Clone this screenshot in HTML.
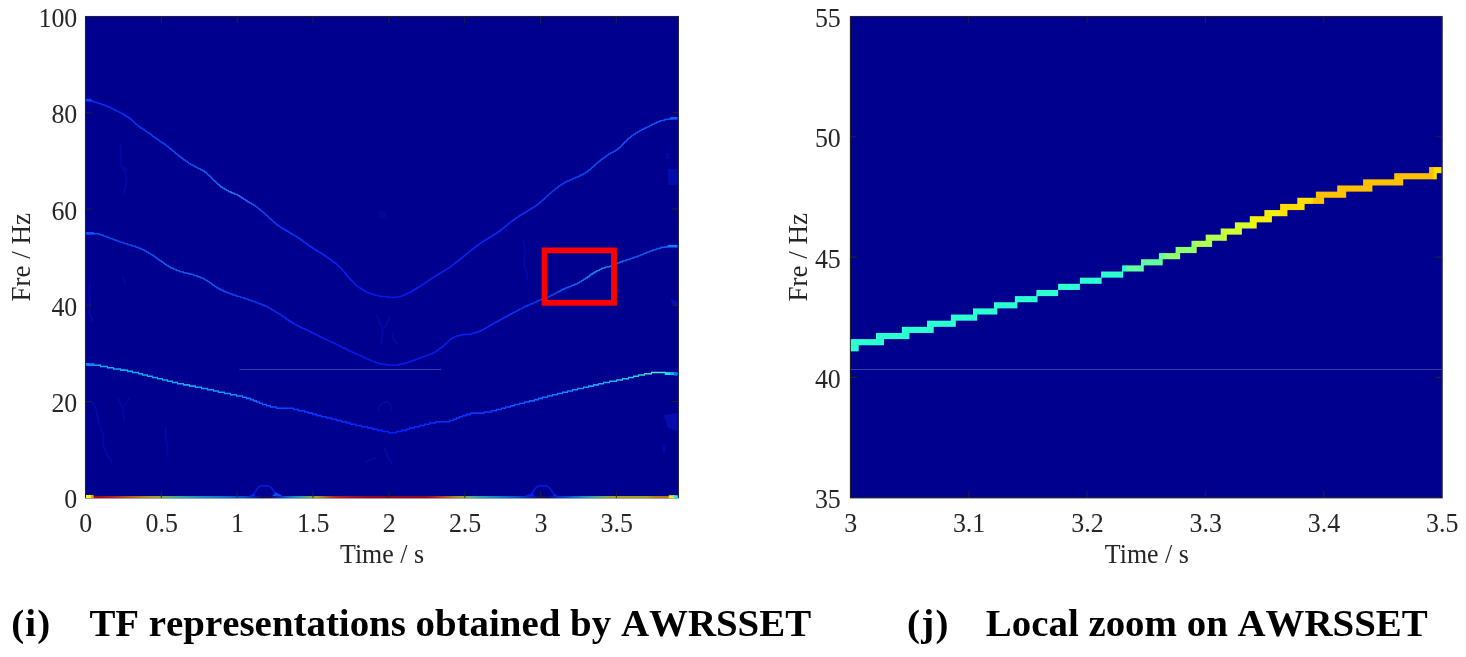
<!DOCTYPE html>
<html lang="en"><head><meta charset="utf-8"><title>TF representations obtained by AWRSSET</title>
<style>html,body{margin:0;padding:0;background:#fff;overflow:hidden}svg{display:block;position:absolute;left:0;top:0}text{font-family:"Liberation Serif","Times New Roman",Times,serif;fill:#262626}.t{font-size:27px}.c{font-size:38.9px;font-weight:bold;fill:#000;font-kerning:none}</style></head><body>
<svg width="1466" height="657" viewBox="0 0 1466 657">
<defs>
<linearGradient id="gTop" gradientUnits="userSpaceOnUse" x1="85.5" y1="0" x2="678.35" y2="0"><stop offset="0.0000" stop-color="#0630ff"/><stop offset="0.0751" stop-color="#0838ff"/><stop offset="0.1594" stop-color="#1058ff"/><stop offset="0.2184" stop-color="#1870ff"/><stop offset="0.2471" stop-color="#2890ff"/><stop offset="0.2775" stop-color="#1868ff"/><stop offset="0.3112" stop-color="#0c48ff"/><stop offset="0.3618" stop-color="#0838ff"/><stop offset="0.4293" stop-color="#0428f8"/><stop offset="0.4968" stop-color="#041cf0"/><stop offset="0.5642" stop-color="#0424f8"/><stop offset="0.6992" stop-color="#0830ff"/><stop offset="0.8004" stop-color="#0c44ff"/><stop offset="0.8678" stop-color="#1058ff"/><stop offset="0.9353" stop-color="#1060ff"/><stop offset="0.9994" stop-color="#1468ff"/></linearGradient>
<linearGradient id="gMid" gradientUnits="userSpaceOnUse" x1="85.5" y1="0" x2="678.35" y2="0"><stop offset="0.0000" stop-color="#1060ff"/><stop offset="0.0751" stop-color="#0c50ff"/><stop offset="0.1425" stop-color="#1470ff"/><stop offset="0.1931" stop-color="#1468ff"/><stop offset="0.2606" stop-color="#0c48ff"/><stop offset="0.3281" stop-color="#0630ff"/><stop offset="0.4293" stop-color="#0420f8"/><stop offset="0.5136" stop-color="#041cf0"/><stop offset="0.6148" stop-color="#0424f8"/><stop offset="0.6992" stop-color="#0834ff"/><stop offset="0.7751" stop-color="#0c48ff"/><stop offset="0.8257" stop-color="#1470ff"/><stop offset="0.8645" stop-color="#24a8ff"/><stop offset="0.8881" stop-color="#1478ff"/><stop offset="0.9353" stop-color="#1060ff"/><stop offset="0.9994" stop-color="#1878ff"/></linearGradient>
<linearGradient id="gBot" gradientUnits="userSpaceOnUse" x1="85.5" y1="0" x2="678.35" y2="0"><stop offset="0.0000" stop-color="#1890ff"/><stop offset="0.0245" stop-color="#10b0f4"/><stop offset="0.1931" stop-color="#10a8f4"/><stop offset="0.2522" stop-color="#1090ff"/><stop offset="0.2943" stop-color="#0c60ff"/><stop offset="0.3449" stop-color="#0840ff"/><stop offset="0.4293" stop-color="#0630ff"/><stop offset="0.5136" stop-color="#0420f8"/><stop offset="0.5980" stop-color="#0630ff"/><stop offset="0.6654" stop-color="#0838ff"/><stop offset="0.7329" stop-color="#0c58ff"/><stop offset="0.8004" stop-color="#1080ff"/><stop offset="0.8678" stop-color="#18a8f8"/><stop offset="0.9353" stop-color="#30d0e0"/><stop offset="0.9623" stop-color="#60f0b0"/><stop offset="0.9792" stop-color="#28e4f0"/><stop offset="0.9994" stop-color="#20e0f8"/></linearGradient>
<linearGradient id="gStrip" gradientUnits="userSpaceOnUse" x1="85.5" y1="0" x2="678.35" y2="0"><stop offset="0.0000" stop-color="#a01010"/><stop offset="0.0245" stop-color="#a01010"/><stop offset="0.0447" stop-color="#b02018"/><stop offset="0.0700" stop-color="#b85018"/><stop offset="0.0953" stop-color="#b08018"/><stop offset="0.1189" stop-color="#a8a020"/><stop offset="0.1392" stop-color="#60b060"/><stop offset="0.1628" stop-color="#30a8a0"/><stop offset="0.1965" stop-color="#1890c0"/><stop offset="0.2370" stop-color="#1070c0"/><stop offset="0.2674" stop-color="#0850c0"/><stop offset="0.2842" stop-color="#0820a0"/><stop offset="0.2977" stop-color="#101060"/><stop offset="0.3112" stop-color="#101060"/><stop offset="0.3281" stop-color="#0830c0"/><stop offset="0.3433" stop-color="#1070c0"/><stop offset="0.3601" stop-color="#2098b0"/><stop offset="0.3753" stop-color="#60a860"/><stop offset="0.3905" stop-color="#a0a020"/><stop offset="0.4057" stop-color="#a86020"/><stop offset="0.4208" stop-color="#b02820"/><stop offset="0.4461" stop-color="#a81028"/><stop offset="0.4799" stop-color="#900818"/><stop offset="0.5727" stop-color="#900818"/><stop offset="0.5895" stop-color="#b02020"/><stop offset="0.6064" stop-color="#b05018"/><stop offset="0.6216" stop-color="#a88018"/><stop offset="0.6334" stop-color="#a0a020"/><stop offset="0.6486" stop-color="#60b070"/><stop offset="0.6688" stop-color="#28a0b0"/><stop offset="0.6992" stop-color="#1080c0"/><stop offset="0.7278" stop-color="#0850c0"/><stop offset="0.7498" stop-color="#0828b0"/><stop offset="0.7633" stop-color="#101068"/><stop offset="0.7801" stop-color="#101068"/><stop offset="0.7970" stop-color="#0830c0"/><stop offset="0.8139" stop-color="#0850c0"/><stop offset="0.8375" stop-color="#1888c0"/><stop offset="0.8594" stop-color="#40a890"/><stop offset="0.8780" stop-color="#80a840"/><stop offset="0.8982" stop-color="#a8a018"/><stop offset="0.9437" stop-color="#a8a018"/><stop offset="0.9657" stop-color="#b87810"/><stop offset="0.9825" stop-color="#b87810"/><stop offset="0.9994" stop-color="#b87810"/></linearGradient>
</defs>
<rect width="1466" height="657" fill="#fff"/>
<rect x="85.0" y="16.0" width="593.85" height="482.2" fill="#00008f"/>
<rect x="239.5" y="369" width="201.5" height="1" fill="#3640a6"/>
<g fill="none" stroke="#0408a0" stroke-width="2" stroke-linecap="round" stroke-linejoin="round">
<path d="M121 144 C119 152,123 158,121 166 C125 172,128 176,126 184 L124 193M122 166 L128 171"/>
<path d="M90 284 C87 294,92 302,89 312 L93 321M123 278 L125 284"/>
<path d="M118 398 L123 408 L129 399M123 408 L124 420 M92 402 C100 410,96 425,104 436 C100 446,108 455,112 463M166 428 C163 438,170 446,167 455"/>
<path d="M377 316 L383 330 L390 317M383 330 L381 344M393 333 C392 337,394 341,397 343"/>
<path d="M378 411 C379 404,384 401,388 402 C391 404,392 408,391 411M366 462 L376 458M385 449 C387 455,389 460,392 463"/>
<path d="M523 241 C528 250,521 262,526 270 L528 281"/>
</g>
<g fill="#060cb0">
<rect x="379" y="211" width="7.5" height="7.5" opacity="0.35"/>
<path d="M664 415 L677.6 413 L677.6 431 L668 428z"/><rect x="668" y="169" width="9.6" height="16" opacity="0.8"/>
<path d="M670 299 L677.6 302 L677.6 307 L672 304z"/><rect x="662.5" y="445" width="3" height="8" opacity="0.7"/><rect x="666" y="153" width="3.5" height="6" opacity="0.6"/>
</g>
<g fill="none" stroke="#0420f0" stroke-width="1.5" stroke-linecap="round" stroke-linejoin="round" opacity="0.85">
<path d="M250.5 496 L253.5 494.5 C255.5 492,257 488.5,258.8 487 L261.2 485.8 L268.2 485.8 L270.6 487 C273 489.5,274.5 492.5,276.8 494.2 L281 495.6"/>
<path d="M526 496 L531 494.6 C533 492.5,534.5 489,536.6 487 L538.8 485.8 L546.4 485.8 L548.6 487 C551 489,552.5 492.5,554.2 494.6 L557 496"/>
</g>
<path d="M250 496.3L254 493.2L255.6 496.3zM526 496.3L532.5 493L534.5 496.3zM552.5 496.3L554 493.4L557.5 496.3z" fill="#0424ff" opacity="0.9"/>
<path d="M272 496.3L275.5 492.2L281.3 495.2L281.3 496.3z" fill="#0c50ff" opacity="0.9"/>
<g>
<path d="M86.0 99.09H88.0V100.42H86.0zM88.0 99.09H89.0V101.65H88.0zM89.0 100.32H93.0V101.65H89.0zM93.0 100.32H94.0V102.88H93.0zM94.0 101.55H97.0V102.88H94.0zM97.0 101.55H98.0V104.11H97.0zM98.0 102.78H101.0V104.11H98.0zM101.0 102.78H102.0V105.34H101.0zM102.0 104.01H104.0V105.34H102.0zM104.0 104.01H105.0V106.56H104.0zM105.0 105.24H107.0V106.56H105.0zM107.0 105.24H108.0V107.79H107.0zM108.0 106.46H110.0V107.79H108.0zM110.0 106.46H111.0V109.02H110.0zM111.0 107.69H113.0V109.02H111.0zM113.0 107.69H114.0V110.25H113.0zM114.0 108.92H115.0V110.25H114.0zM115.0 108.92H116.0V111.48H115.0zM116.0 110.15H118.0V111.48H116.0zM118.0 110.15H119.0V112.71H118.0zM119.0 111.38H120.0V112.71H119.0zM120.0 111.38H121.0V113.94H120.0zM121.0 112.61H122.0V113.94H121.0zM122.0 112.61H123.0V115.17H122.0zM123.0 113.84H124.0V115.17H123.0zM124.0 113.84H125.0V116.40H124.0zM125.0 115.07H126.0V116.40H125.0zM126.0 115.07H127.0V117.63H126.0zM127.0 116.30H128.0V117.63H127.0zM128.0 116.30H129.0V118.85H128.0zM129.0 117.53H130.0V118.85H129.0zM130.0 117.53H131.0V120.08H130.0zM131.0 118.75H132.0V121.31H131.0zM132.0 119.98H133.0V121.31H132.0zM133.0 119.98H134.0V122.54H133.0zM134.0 121.21H135.0V123.77H134.0zM135.0 122.44H136.0V125.00H135.0zM136.0 123.67H137.0V125.00H136.0zM137.0 123.67H138.0V126.23H137.0zM138.0 124.90H139.0V127.46H138.0zM139.0 126.13H140.0V127.46H139.0zM140.0 126.13H141.0V128.69H140.0zM141.0 127.36H142.0V128.69H141.0zM142.0 127.36H143.0V129.91H142.0zM143.0 128.59H144.0V129.91H143.0zM144.0 128.59H145.0V131.14H144.0zM145.0 129.81H146.0V132.37H145.0zM146.0 131.04H147.0V132.37H146.0zM147.0 131.04H148.0V133.60H147.0zM148.0 132.27H149.0V133.60H148.0zM149.0 132.27H150.0V134.83H149.0zM150.0 133.50H151.0V134.83H150.0zM151.0 133.50H152.0V136.06H151.0zM152.0 134.73H153.0V137.29H152.0zM153.0 135.96H154.0V137.29H153.0zM154.0 135.96H155.0V138.52H154.0zM155.0 137.19H156.0V138.52H155.0zM156.0 137.19H157.0V139.75H156.0zM157.0 138.42H158.0V139.75H157.0zM158.0 138.42H159.0V140.98H158.0zM159.0 139.65H160.0V142.20H159.0zM160.0 140.88H161.0V142.20H160.0zM161.0 140.88H162.0V143.43H161.0zM162.0 142.10H163.0V143.43H162.0zM163.0 142.10H164.0V144.66H163.0zM164.0 143.33H165.0V144.66H164.0zM165.0 143.33H166.0V145.89H165.0zM166.0 144.56H167.0V147.12H166.0zM167.0 145.79H168.0V147.12H167.0zM168.0 145.79H169.0V148.35H168.0zM169.0 147.02H170.0V149.58H169.0zM170.0 148.25H171.0V149.58H170.0zM171.0 148.25H172.0V150.81H171.0zM172.0 149.48H173.0V152.04H172.0zM173.0 150.71H174.0V152.04H173.0zM174.0 150.71H175.0V153.27H174.0zM175.0 151.94H176.0V154.49H175.0zM176.0 153.17H177.0V154.49H176.0zM177.0 153.17H178.0V155.72H177.0zM178.0 154.39H179.0V156.95H178.0zM179.0 155.62H180.0V156.95H179.0zM180.0 155.62H181.0V158.18H180.0zM181.0 156.85H182.0V158.18H181.0zM182.0 156.85H183.0V159.41H182.0zM183.0 158.08H184.0V160.64H183.0zM184.0 159.31H185.0V160.64H184.0zM185.0 159.31H186.0V161.87H185.0zM186.0 160.54H187.0V161.87H186.0zM187.0 160.54H188.0V163.10H187.0zM188.0 161.77H189.0V164.33H188.0zM189.0 163.00H190.0V164.33H189.0zM190.0 163.00H191.0V165.56H190.0zM191.0 164.23H193.0V165.56H191.0zM193.0 164.23H194.0V166.78H193.0zM194.0 165.46H195.0V166.78H194.0zM195.0 165.46H196.0V168.01H195.0zM196.0 166.68H197.0V168.01H196.0zM197.0 166.68H198.0V169.24H197.0zM198.0 167.91H200.0V169.24H198.0zM200.0 167.91H201.0V170.47H200.0zM201.0 169.14H202.0V170.47H201.0zM202.0 169.14H203.0V171.70H202.0zM203.0 170.37H204.0V171.70H203.0zM204.0 170.37H205.0V172.93H204.0zM205.0 171.60H206.0V172.93H205.0zM206.0 171.60H207.0V174.16H206.0zM207.0 172.83H208.0V175.39H207.0zM208.0 174.06H209.0V176.62H208.0zM209.0 175.29H210.0V176.62H209.0zM210.0 175.29H211.0V177.85H210.0zM211.0 176.52H212.0V179.07H211.0zM212.0 177.75H213.0V180.30H212.0zM213.0 178.97H214.0V181.53H213.0zM214.0 180.20H215.0V181.53H214.0zM215.0 180.20H216.0V182.76H215.0zM216.0 181.43H217.0V183.99H216.0zM217.0 182.66H218.0V185.22H217.0zM218.0 183.89H219.0V185.22H218.0zM219.0 183.89H220.0V186.45H219.0zM220.0 185.12H221.0V187.68H220.0zM221.0 186.35H222.0V187.68H221.0zM222.0 186.35H223.0V188.91H222.0zM223.0 187.58H224.0V188.91H223.0zM224.0 187.58H225.0V190.14H224.0zM225.0 188.81H226.0V190.14H225.0zM226.0 188.81H227.0V191.36H226.0zM227.0 190.04H228.0V191.36H227.0zM228.0 190.04H229.0V192.59H228.0zM229.0 191.26H231.0V192.59H229.0zM231.0 191.26H232.0V193.82H231.0zM232.0 192.49H234.0V193.82H232.0zM234.0 192.49H235.0V195.05H234.0zM235.0 193.72H237.0V195.05H235.0zM237.0 193.72H238.0V196.28H237.0zM238.0 194.95H239.0V196.28H238.0zM239.0 194.95H240.0V197.51H239.0zM240.0 196.18H241.0V197.51H240.0zM241.0 196.18H242.0V198.74H241.0zM242.0 197.41H243.0V198.74H242.0zM243.0 197.41H244.0V199.97H243.0zM244.0 198.64H245.0V199.97H244.0zM245.0 198.64H246.0V201.20H245.0zM246.0 199.87H247.0V201.20H246.0zM247.0 199.87H248.0V202.42H247.0zM248.0 201.10H249.0V202.42H248.0zM249.0 201.10H250.0V203.65H249.0zM250.0 202.32H251.0V203.65H250.0zM251.0 202.32H252.0V204.88H251.0zM252.0 203.55H253.0V204.88H252.0zM253.0 203.55H254.0V206.11H253.0zM254.0 204.78H255.0V206.11H254.0zM255.0 204.78H256.0V207.34H255.0zM256.0 206.01H257.0V207.34H256.0zM257.0 206.01H258.0V208.57H257.0zM258.0 207.24H259.0V209.80H258.0zM259.0 208.47H260.0V209.80H259.0zM260.0 208.47H261.0V211.03H260.0zM261.0 209.70H262.0V212.26H261.0zM262.0 210.93H263.0V212.26H262.0zM263.0 210.93H264.0V213.49H263.0zM264.0 212.16H265.0V214.71H264.0zM265.0 213.39H266.0V215.94H265.0zM266.0 214.61H267.0V215.94H266.0zM267.0 214.61H268.0V217.17H267.0zM268.0 215.84H269.0V218.40H268.0zM269.0 217.07H270.0V219.63H269.0zM270.0 218.30H271.0V219.63H270.0zM271.0 218.30H272.0V220.86H271.0zM272.0 219.53H273.0V222.09H272.0zM273.0 220.76H274.0V223.32H273.0zM274.0 221.99H275.0V223.32H274.0zM275.0 221.99H276.0V224.55H275.0zM276.0 223.22H277.0V225.78H276.0zM277.0 224.45H278.0V225.78H277.0zM278.0 224.45H279.0V227.00H278.0zM279.0 225.68H280.0V227.00H279.0zM280.0 225.68H281.0V228.23H280.0zM281.0 226.90H282.0V228.23H281.0zM282.0 226.90H283.0V229.46H282.0zM283.0 228.13H284.0V229.46H283.0zM284.0 228.13H285.0V230.69H284.0zM285.0 229.36H286.0V230.69H285.0zM286.0 229.36H287.0V231.92H286.0zM287.0 230.59H288.0V231.92H287.0zM288.0 230.59H289.0V233.15H288.0zM289.0 231.82H290.0V233.15H289.0zM290.0 231.82H291.0V234.38H290.0zM291.0 233.05H292.0V234.38H291.0zM292.0 233.05H293.0V235.61H292.0zM293.0 234.28H294.0V235.61H293.0zM294.0 234.28H295.0V236.84H294.0zM295.0 235.51H296.0V236.84H295.0zM296.0 235.51H297.0V238.07H296.0zM297.0 236.74H298.0V238.07H297.0zM298.0 236.74H299.0V239.29H298.0zM299.0 237.97H300.0V239.29H299.0zM300.0 237.97H301.0V240.52H300.0zM301.0 239.19H302.0V240.52H301.0zM302.0 239.19H303.0V241.75H302.0zM303.0 240.42H304.0V242.98H303.0zM304.0 241.65H305.0V242.98H304.0zM305.0 241.65H306.0V244.21H305.0zM306.0 242.88H307.0V244.21H306.0zM307.0 242.88H308.0V245.44H307.0zM308.0 244.11H309.0V246.67H308.0zM309.0 245.34H310.0V246.67H309.0zM310.0 245.34H311.0V247.90H310.0zM311.0 246.57H312.0V247.90H311.0zM312.0 246.57H313.0V249.13H312.0zM313.0 247.80H314.0V249.13H313.0zM314.0 247.80H315.0V250.36H314.0zM315.0 249.03H316.0V250.36H315.0zM316.0 249.03H317.0V251.58H316.0zM317.0 250.26H318.0V251.58H317.0zM318.0 250.26H319.0V252.81H318.0zM319.0 251.48H320.0V252.81H319.0zM320.0 251.48H321.0V254.04H320.0zM321.0 252.71H322.0V254.04H321.0zM322.0 252.71H323.0V255.27H322.0zM323.0 253.94H324.0V255.27H323.0zM324.0 253.94H325.0V256.50H324.0zM325.0 255.17H326.0V256.50H325.0zM326.0 255.17H327.0V257.73H326.0zM327.0 256.40H328.0V258.96H327.0zM328.0 257.63H329.0V258.96H328.0zM329.0 257.63H330.0V260.19H329.0zM330.0 258.86H331.0V260.19H330.0zM331.0 258.86H332.0V261.42H331.0zM332.0 260.09H333.0V262.65H332.0zM333.0 261.32H334.0V262.65H333.0zM334.0 261.32H335.0V263.87H334.0zM335.0 262.55H336.0V263.87H335.0zM336.0 262.55H337.0V265.10H336.0zM337.0 263.77H338.0V266.33H337.0zM338.0 265.00H339.0V267.56H338.0zM339.0 266.23H340.0V267.56H339.0zM340.0 266.23H341.0V268.79H340.0zM341.0 267.46H342.0V270.02H341.0zM342.0 268.69H343.0V271.25H342.0zM343.0 269.92H344.0V272.48H343.0zM344.0 271.15H345.0V273.71H344.0zM345.0 272.38H346.0V274.94H345.0zM346.0 273.61H347.0V276.16H346.0zM347.0 274.84H348.0V277.39H347.0zM348.0 276.06H349.0V278.62H348.0zM349.0 277.29H350.0V279.85H349.0zM350.0 278.52H351.0V281.08H350.0zM351.0 279.75H352.0V281.08H351.0zM352.0 279.75H353.0V282.31H352.0zM353.0 280.98H354.0V283.54H353.0zM354.0 282.21H355.0V284.77H354.0zM355.0 283.44H356.0V286.00H355.0zM356.0 284.67H357.0V286.00H356.0zM357.0 284.67H358.0V287.22H357.0zM358.0 285.90H359.0V288.45H358.0zM359.0 287.12H360.0V288.45H359.0zM360.0 287.12H361.0V289.68H360.0zM361.0 288.35H362.0V289.68H361.0zM362.0 288.35H363.0V290.91H362.0zM363.0 289.58H364.0V290.91H363.0zM364.0 289.58H365.0V292.14H364.0zM365.0 290.81H366.0V292.14H365.0zM366.0 290.81H367.0V293.37H366.0zM367.0 292.04H369.0V293.37H367.0zM369.0 292.04H370.0V294.60H369.0zM370.0 293.27H373.0V294.60H370.0zM373.0 293.27H374.0V295.83H373.0zM374.0 294.50H378.0V295.83H374.0zM378.0 294.50H379.0V297.06H378.0zM379.0 295.73H388.0V297.06H379.0zM388.0 295.73H389.0V298.29H388.0zM389.0 296.96H397.0V298.29H389.0zM397.0 295.73H398.0V298.29H397.0zM398.0 295.73H402.0V297.06H398.0zM402.0 294.50H403.0V297.06H402.0zM403.0 294.50H405.0V295.83H403.0zM405.0 293.27H406.0V295.83H405.0zM406.0 293.27H407.0V294.60H406.0zM407.0 292.04H408.0V294.60H407.0zM408.0 292.04H410.0V293.37H408.0zM410.0 290.81H411.0V293.37H410.0zM411.0 290.81H412.0V292.14H411.0zM412.0 289.58H413.0V292.14H412.0zM413.0 289.58H414.0V290.91H413.0zM414.0 288.35H415.0V290.91H414.0zM415.0 288.35H416.0V289.68H415.0zM416.0 287.12H417.0V289.68H416.0zM417.0 287.12H418.0V288.45H417.0zM418.0 285.90H419.0V288.45H418.0zM419.0 285.90H420.0V287.22H419.0zM420.0 284.67H421.0V287.22H420.0zM421.0 284.67H422.0V286.00H421.0zM422.0 283.44H423.0V286.00H422.0zM423.0 283.44H424.0V284.77H423.0zM424.0 282.21H425.0V284.77H424.0zM425.0 282.21H426.0V283.54H425.0zM426.0 280.98H427.0V283.54H426.0zM427.0 279.75H428.0V282.31H427.0zM428.0 279.75H429.0V281.08H428.0zM429.0 278.52H430.0V281.08H429.0zM430.0 278.52H431.0V279.85H430.0zM431.0 277.29H432.0V279.85H431.0zM432.0 277.29H433.0V278.62H432.0zM433.0 276.06H434.0V278.62H433.0zM434.0 276.06H435.0V277.39H434.0zM435.0 274.84H436.0V277.39H435.0zM436.0 274.84H437.0V276.16H436.0zM437.0 273.61H438.0V276.16H437.0zM438.0 273.61H439.0V274.94H438.0zM439.0 272.38H440.0V274.94H439.0zM440.0 272.38H441.0V273.71H440.0zM441.0 271.15H442.0V273.71H441.0zM442.0 271.15H443.0V272.48H442.0zM443.0 269.92H444.0V272.48H443.0zM444.0 269.92H445.0V271.25H444.0zM445.0 268.69H446.0V271.25H445.0zM446.0 268.69H447.0V270.02H446.0zM447.0 267.46H448.0V270.02H447.0zM448.0 267.46H449.0V268.79H448.0zM449.0 266.23H450.0V268.79H449.0zM450.0 266.23H451.0V267.56H450.0zM451.0 265.00H452.0V267.56H451.0zM452.0 263.77H453.0V266.33H452.0zM453.0 263.77H454.0V265.10H453.0zM454.0 262.55H455.0V265.10H454.0zM455.0 261.32H456.0V263.87H455.0zM456.0 261.32H457.0V262.65H456.0zM457.0 260.09H458.0V262.65H457.0zM458.0 260.09H459.0V261.42H458.0zM459.0 258.86H460.0V261.42H459.0zM460.0 257.63H461.0V260.19H460.0zM461.0 257.63H462.0V258.96H461.0zM462.0 256.40H463.0V258.96H462.0zM463.0 255.17H464.0V257.73H463.0zM464.0 255.17H465.0V256.50H464.0zM465.0 253.94H466.0V256.50H465.0zM466.0 252.71H467.0V255.27H466.0zM467.0 252.71H468.0V254.04H467.0zM468.0 251.48H469.0V254.04H468.0zM469.0 250.26H470.0V252.81H469.0zM470.0 250.26H471.0V251.58H470.0zM471.0 249.03H472.0V251.58H471.0zM472.0 247.80H473.0V250.36H472.0zM473.0 247.80H474.0V249.13H473.0zM474.0 246.57H475.0V249.13H474.0zM475.0 245.34H476.0V247.90H475.0zM476.0 245.34H477.0V246.67H476.0zM477.0 244.11H478.0V246.67H477.0zM478.0 244.11H479.0V245.44H478.0zM479.0 242.88H480.0V245.44H479.0zM480.0 242.88H481.0V244.21H480.0zM481.0 241.65H482.0V244.21H481.0zM482.0 240.42H483.0V242.98H482.0zM483.0 240.42H484.0V241.75H483.0zM484.0 239.19H485.0V241.75H484.0zM485.0 239.19H486.0V240.52H485.0zM486.0 237.97H487.0V240.52H486.0zM487.0 237.97H488.0V239.29H487.0zM488.0 236.74H489.0V239.29H488.0zM489.0 236.74H491.0V238.07H489.0zM491.0 235.51H492.0V238.07H491.0zM492.0 234.28H493.0V236.84H492.0zM493.0 234.28H494.0V235.61H493.0zM494.0 233.05H495.0V235.61H494.0zM495.0 233.05H496.0V234.38H495.0zM496.0 231.82H497.0V234.38H496.0zM497.0 231.82H498.0V233.15H497.0zM498.0 230.59H499.0V233.15H498.0zM499.0 230.59H500.0V231.92H499.0zM500.0 229.36H501.0V231.92H500.0zM501.0 228.13H502.0V230.69H501.0zM502.0 228.13H503.0V229.46H502.0zM503.0 226.90H504.0V229.46H503.0zM504.0 225.68H505.0V228.23H504.0zM505.0 225.68H506.0V227.00H505.0zM506.0 224.45H507.0V227.00H506.0zM507.0 223.22H508.0V225.78H507.0zM508.0 223.22H509.0V224.55H508.0zM509.0 221.99H510.0V224.55H509.0zM510.0 220.76H511.0V223.32H510.0zM511.0 220.76H512.0V222.09H511.0zM512.0 219.53H513.0V222.09H512.0zM513.0 219.53H514.0V220.86H513.0zM514.0 218.30H515.0V220.86H514.0zM515.0 217.07H516.0V219.63H515.0zM516.0 217.07H517.0V218.40H516.0zM517.0 215.84H518.0V218.40H517.0zM518.0 215.84H519.0V217.17H518.0zM519.0 214.61H520.0V217.17H519.0zM520.0 214.61H521.0V215.94H520.0zM521.0 213.39H522.0V215.94H521.0zM522.0 213.39H523.0V214.71H522.0zM523.0 212.16H524.0V214.71H523.0zM524.0 212.16H525.0V213.49H524.0zM525.0 210.93H526.0V213.49H525.0zM526.0 210.93H527.0V212.26H526.0zM527.0 209.70H528.0V212.26H527.0zM528.0 209.70H529.0V211.03H528.0zM529.0 208.47H530.0V211.03H529.0zM530.0 208.47H531.0V209.80H530.0zM531.0 207.24H532.0V209.80H531.0zM532.0 207.24H533.0V208.57H532.0zM533.0 206.01H534.0V208.57H533.0zM534.0 206.01H535.0V207.34H534.0zM535.0 204.78H536.0V207.34H535.0zM536.0 204.78H537.0V206.11H536.0zM537.0 203.55H538.0V206.11H537.0zM538.0 202.32H539.0V204.88H538.0zM539.0 202.32H540.0V203.65H539.0zM540.0 201.10H541.0V203.65H540.0zM541.0 199.87H542.0V202.42H541.0zM542.0 199.87H543.0V201.20H542.0zM543.0 198.64H544.0V201.20H543.0zM544.0 197.41H545.0V199.97H544.0zM545.0 196.18H546.0V198.74H545.0zM546.0 194.95H547.0V197.51H546.0zM547.0 194.95H548.0V196.28H547.0zM548.0 193.72H549.0V196.28H548.0zM549.0 192.49H550.0V195.05H549.0zM550.0 192.49H551.0V193.82H550.0zM551.0 191.26H552.0V193.82H551.0zM552.0 190.04H553.0V192.59H552.0zM553.0 190.04H554.0V191.36H553.0zM554.0 188.81H555.0V191.36H554.0zM555.0 187.58H556.0V190.14H555.0zM556.0 187.58H557.0V188.91H556.0zM557.0 186.35H558.0V188.91H557.0zM558.0 185.12H559.0V187.68H558.0zM559.0 185.12H560.0V186.45H559.0zM560.0 183.89H561.0V186.45H560.0zM561.0 183.89H562.0V185.22H561.0zM562.0 182.66H563.0V185.22H562.0zM563.0 182.66H564.0V183.99H563.0zM564.0 181.43H565.0V183.99H564.0zM565.0 181.43H566.0V182.76H565.0zM566.0 180.20H567.0V182.76H566.0zM567.0 180.20H569.0V181.53H567.0zM569.0 178.97H570.0V181.53H569.0zM570.0 178.97H572.0V180.30H570.0zM572.0 177.75H573.0V180.30H572.0zM573.0 177.75H575.0V179.07H573.0zM575.0 176.52H576.0V179.07H575.0zM576.0 176.52H578.0V177.85H576.0zM578.0 175.29H579.0V177.85H578.0zM579.0 175.29H580.0V176.62H579.0zM580.0 174.06H581.0V176.62H580.0zM581.0 174.06H583.0V175.39H581.0zM583.0 172.83H584.0V175.39H583.0zM584.0 172.83H585.0V174.16H584.0zM585.0 171.60H586.0V174.16H585.0zM586.0 171.60H587.0V172.93H586.0zM587.0 170.37H588.0V172.93H587.0zM588.0 169.14H589.0V171.70H588.0zM589.0 169.14H590.0V170.47H589.0zM590.0 167.91H591.0V170.47H590.0zM591.0 166.68H592.0V169.24H591.0zM592.0 166.68H593.0V168.01H592.0zM593.0 165.46H594.0V168.01H593.0zM594.0 164.23H595.0V166.78H594.0zM595.0 163.00H596.0V165.56H595.0zM596.0 163.00H597.0V164.33H596.0zM597.0 161.77H598.0V164.33H597.0zM598.0 160.54H599.0V163.10H598.0zM599.0 160.54H600.0V161.87H599.0zM600.0 159.31H601.0V161.87H600.0zM601.0 158.08H602.0V160.64H601.0zM602.0 158.08H603.0V159.41H602.0zM603.0 156.85H604.0V159.41H603.0zM604.0 156.85H605.0V158.18H604.0zM605.0 155.62H606.0V158.18H605.0zM606.0 154.39H607.0V156.95H606.0zM607.0 154.39H608.0V155.72H607.0zM608.0 153.17H609.0V155.72H608.0zM609.0 153.17H610.0V154.49H609.0zM610.0 151.94H611.0V154.49H610.0zM611.0 151.94H613.0V153.27H611.0zM613.0 150.71H614.0V153.27H613.0zM614.0 150.71H615.0V152.04H614.0zM615.0 149.48H616.0V152.04H615.0zM616.0 149.48H617.0V150.81H616.0zM617.0 148.25H618.0V150.81H617.0zM618.0 147.02H619.0V149.58H618.0zM619.0 147.02H620.0V148.35H619.0zM620.0 145.79H621.0V148.35H620.0zM621.0 144.56H622.0V147.12H621.0zM622.0 143.33H623.0V145.89H622.0zM623.0 142.10H624.0V144.66H623.0zM624.0 140.88H625.0V143.43H624.0zM625.0 140.88H626.0V142.20H625.0zM626.0 139.65H627.0V142.20H626.0zM627.0 138.42H628.0V140.98H627.0zM628.0 137.19H629.0V139.75H628.0zM629.0 137.19H630.0V138.52H629.0zM630.0 135.96H631.0V138.52H630.0zM631.0 134.73H632.0V137.29H631.0zM632.0 134.73H633.0V136.06H632.0zM633.0 133.50H634.0V136.06H633.0zM634.0 133.50H635.0V134.83H634.0zM635.0 132.27H636.0V134.83H635.0zM636.0 132.27H637.0V133.60H636.0zM637.0 131.04H638.0V133.60H637.0zM638.0 131.04H639.0V132.37H638.0zM639.0 129.81H640.0V132.37H639.0zM640.0 129.81H641.0V131.14H640.0zM641.0 128.59H642.0V131.14H641.0zM642.0 128.59H644.0V129.91H642.0zM644.0 127.36H645.0V129.91H644.0zM645.0 127.36H646.0V128.69H645.0zM646.0 126.13H647.0V128.69H646.0zM647.0 126.13H649.0V127.46H647.0zM649.0 124.90H650.0V127.46H649.0zM650.0 124.90H651.0V126.23H650.0zM651.0 123.67H652.0V126.23H651.0zM652.0 123.67H654.0V125.00H652.0zM654.0 122.44H655.0V125.00H654.0zM655.0 122.44H656.0V123.77H655.0zM656.0 121.21H657.0V123.77H656.0zM657.0 121.21H659.0V122.54H657.0zM659.0 119.98H660.0V122.54H659.0zM660.0 119.98H664.0V121.31H660.0zM664.0 118.75H665.0V121.31H664.0zM665.0 118.75H670.0V120.08H665.0zM670.0 117.53H671.0V120.08H670.0zM671.0 117.53H677.7V118.85H671.0z" fill="url(#gTop)" opacity="0.55"/>
<path d="M85.9 100.0C86.6 100.1 88.2 100.2 90.0 100.6C91.8 101.0 94.2 101.8 96.7 102.6C99.2 103.4 102.3 104.3 105.1 105.4C107.9 106.5 110.7 107.9 113.5 109.2C116.3 110.5 119.0 111.8 121.8 113.4C124.6 115.0 127.4 116.7 130.2 118.8C133.0 120.9 135.8 123.8 138.6 126.0C141.4 128.2 144.1 129.9 146.9 131.8C149.7 133.8 152.5 135.7 155.3 137.7C158.1 139.7 160.9 141.5 163.7 143.6C166.5 145.7 169.3 148.1 172.1 150.3C174.9 152.5 177.6 154.8 180.4 156.9C183.2 159.0 186.0 161.2 188.8 163.0C191.6 164.8 194.4 166.3 197.2 167.8C200.0 169.3 202.7 170.1 205.5 172.2C208.3 174.3 211.1 177.7 213.9 180.3C216.7 182.9 219.5 185.6 222.3 187.6C225.1 189.6 227.9 190.8 230.6 192.1C233.3 193.4 235.7 193.9 238.4 195.4C241.1 196.9 243.9 199.2 246.7 200.9C249.5 202.7 252.3 204.0 255.1 205.9C257.9 207.8 260.7 210.2 263.5 212.6C266.3 215.0 269.0 217.8 271.8 220.2C274.6 222.6 277.4 224.9 280.2 226.9C283.0 228.9 285.8 230.2 288.6 231.9C291.4 233.6 294.1 235.1 296.9 236.9C299.7 238.7 302.5 240.9 305.3 242.8C308.1 244.8 310.9 246.8 313.7 248.6C316.5 250.4 319.3 251.8 322.1 253.6C324.9 255.4 327.6 257.4 330.4 259.5C333.2 261.6 336.0 263.6 338.8 266.2C341.6 268.8 344.4 272.3 347.2 275.4C350.0 278.5 352.7 282.1 355.5 284.6C358.3 287.1 362.0 289.1 363.9 290.3C365.8 291.6 364.8 291.3 366.7 292.1C368.6 292.9 372.3 294.4 375.1 295.1C377.9 295.9 380.7 296.3 383.5 296.6C386.3 296.9 389.0 297.1 391.8 297.1C394.6 297.1 397.4 297.3 400.2 296.6C403.0 295.9 405.8 294.3 408.6 292.9C411.4 291.5 414.1 290.1 416.9 288.4C419.7 286.7 422.5 284.7 425.3 282.8C428.1 280.9 430.9 278.8 433.7 277.0C436.5 275.2 439.3 273.7 442.1 272.0C444.9 270.3 447.6 268.8 450.4 266.9C453.2 264.9 456.0 262.5 458.8 260.3C461.6 258.1 464.4 255.8 467.2 253.6C470.0 251.4 472.7 249.0 475.5 246.9C478.3 244.8 481.1 242.8 483.9 241.0C486.7 239.2 489.5 237.8 492.3 236.0C495.1 234.2 497.7 232.5 500.6 230.3C503.5 228.1 506.7 225.1 509.9 222.7C513.1 220.3 516.5 218.0 519.8 215.8C523.1 213.7 526.4 212.0 529.7 209.8C533.0 207.7 536.3 205.5 539.6 202.9C542.9 200.3 546.2 196.8 549.5 194.0C552.8 191.2 556.1 188.4 559.4 186.1C562.7 183.8 566.0 181.8 569.3 180.2C572.6 178.5 575.9 177.8 579.2 176.2C582.5 174.5 585.8 172.8 589.1 170.3C592.4 167.8 595.7 164.1 599.0 161.4C602.3 158.8 605.5 156.6 608.8 154.4C612.1 152.2 615.4 151.1 618.7 148.5C622.0 145.9 625.3 141.4 628.6 138.6C631.9 135.8 635.2 133.7 638.5 131.7C641.8 129.7 645.1 128.3 648.4 126.7C651.7 125.1 655.0 123.0 658.3 121.8C661.6 120.5 665.0 119.8 668.2 119.2C671.4 118.6 675.8 118.4 677.3 118.2" fill="none" stroke="url(#gTop)" stroke-width="1.25" stroke-linejoin="round" opacity="0.75"/>
<path d="M86.0 233.05H99.0V234.38H86.0zM99.0 233.05H100.0V235.61H99.0zM100.0 234.28H103.0V235.61H100.0zM103.0 234.28H104.0V236.84H103.0zM104.0 235.51H106.0V236.84H104.0zM106.0 235.51H107.0V238.07H106.0zM107.0 236.74H109.0V238.07H107.0zM109.0 236.74H110.0V239.29H109.0zM110.0 237.97H113.0V239.29H110.0zM113.0 237.97H114.0V240.52H113.0zM114.0 239.19H116.0V240.52H114.0zM116.0 239.19H117.0V241.75H116.0zM117.0 240.42H119.0V241.75H117.0zM119.0 240.42H120.0V242.98H119.0zM120.0 241.65H123.0V242.98H120.0zM123.0 241.65H124.0V244.21H123.0zM124.0 242.88H127.0V244.21H124.0zM127.0 242.88H128.0V245.44H127.0zM128.0 244.11H131.0V245.44H128.0zM131.0 244.11H132.0V246.67H131.0zM132.0 245.34H135.0V246.67H132.0zM135.0 245.34H136.0V247.90H135.0zM136.0 246.57H138.0V247.90H136.0zM138.0 246.57H139.0V249.13H138.0zM139.0 247.80H141.0V249.13H139.0zM141.0 247.80H142.0V250.36H141.0zM142.0 249.03H144.0V250.36H142.0zM144.0 249.03H145.0V251.58H144.0zM145.0 250.26H146.0V251.58H145.0zM146.0 250.26H147.0V252.81H146.0zM147.0 251.48H148.0V252.81H147.0zM148.0 251.48H149.0V254.04H148.0zM149.0 252.71H150.0V254.04H149.0zM150.0 252.71H151.0V255.27H150.0zM151.0 253.94H152.0V255.27H151.0zM152.0 253.94H153.0V256.50H152.0zM153.0 255.17H154.0V256.50H153.0zM154.0 255.17H155.0V257.73H154.0zM155.0 256.40H156.0V257.73H155.0zM156.0 256.40H157.0V258.96H156.0zM157.0 257.63H158.0V260.19H157.0zM158.0 258.86H159.0V260.19H158.0zM159.0 258.86H160.0V261.42H159.0zM160.0 260.09H161.0V261.42H160.0zM161.0 260.09H162.0V262.65H161.0zM162.0 261.32H163.0V262.65H162.0zM163.0 261.32H164.0V263.87H163.0zM164.0 262.55H165.0V265.10H164.0zM165.0 263.77H166.0V265.10H165.0zM166.0 263.77H167.0V266.33H166.0zM167.0 265.00H168.0V266.33H167.0zM168.0 265.00H169.0V267.56H168.0zM169.0 266.23H170.0V267.56H169.0zM170.0 266.23H171.0V268.79H170.0zM171.0 267.46H173.0V268.79H171.0zM173.0 267.46H174.0V270.02H173.0zM174.0 268.69H176.0V270.02H174.0zM176.0 268.69H177.0V271.25H176.0zM177.0 269.92H179.0V271.25H177.0zM179.0 269.92H180.0V272.48H179.0zM180.0 271.15H183.0V272.48H180.0zM183.0 271.15H184.0V273.71H183.0zM184.0 272.38H188.0V273.71H184.0zM188.0 272.38H189.0V274.94H188.0zM189.0 273.61H193.0V274.94H189.0zM193.0 273.61H194.0V276.16H193.0zM194.0 274.84H197.0V276.16H194.0zM197.0 274.84H198.0V277.39H197.0zM198.0 276.06H200.0V277.39H198.0zM200.0 276.06H201.0V278.62H200.0zM201.0 277.29H203.0V278.62H201.0zM203.0 277.29H204.0V279.85H203.0zM204.0 278.52H205.0V279.85H204.0zM205.0 278.52H206.0V281.08H205.0zM206.0 279.75H207.0V281.08H206.0zM207.0 279.75H208.0V282.31H207.0zM208.0 280.98H209.0V282.31H208.0zM209.0 280.98H210.0V283.54H209.0zM210.0 282.21H211.0V283.54H210.0zM211.0 282.21H212.0V284.77H211.0zM212.0 283.44H213.0V286.00H212.0zM213.0 284.67H214.0V286.00H213.0zM214.0 284.67H215.0V287.22H214.0zM215.0 285.90H216.0V287.22H215.0zM216.0 285.90H217.0V288.45H216.0zM217.0 287.12H218.0V288.45H217.0zM218.0 287.12H219.0V289.68H218.0zM219.0 288.35H220.0V289.68H219.0zM220.0 288.35H221.0V290.91H220.0zM221.0 289.58H223.0V290.91H221.0zM223.0 289.58H224.0V292.14H223.0zM224.0 290.81H226.0V292.14H224.0zM226.0 290.81H227.0V293.37H226.0zM227.0 292.04H229.0V293.37H227.0zM229.0 292.04H230.0V294.60H229.0zM230.0 293.27H232.0V294.60H230.0zM232.0 293.27H233.0V295.83H232.0zM233.0 294.50H236.0V295.83H233.0zM236.0 294.50H237.0V297.06H236.0zM237.0 295.73H240.0V297.06H237.0zM240.0 295.73H241.0V298.29H240.0zM241.0 296.96H244.0V298.29H241.0zM244.0 296.96H245.0V299.51H244.0zM245.0 298.19H248.0V299.51H245.0zM248.0 298.19H249.0V300.74H248.0zM249.0 299.41H251.0V300.74H249.0zM251.0 299.41H252.0V301.97H251.0zM252.0 300.64H255.0V301.97H252.0zM255.0 300.64H256.0V303.20H255.0zM256.0 301.87H258.0V303.20H256.0zM258.0 301.87H259.0V304.43H258.0zM259.0 303.10H261.0V304.43H259.0zM261.0 303.10H262.0V305.66H261.0zM262.0 304.33H264.0V305.66H262.0zM264.0 304.33H265.0V306.89H264.0zM265.0 305.56H267.0V306.89H265.0zM267.0 305.56H268.0V308.12H267.0zM268.0 306.79H269.0V308.12H268.0zM269.0 306.79H270.0V309.35H269.0zM270.0 308.02H271.0V309.35H270.0zM271.0 308.02H272.0V310.58H271.0zM272.0 309.25H273.0V310.58H272.0zM273.0 309.25H274.0V311.80H273.0zM274.0 310.48H275.0V311.80H274.0zM275.0 310.48H276.0V313.03H275.0zM276.0 311.70H277.0V313.03H276.0zM277.0 311.70H278.0V314.26H277.0zM278.0 312.93H279.0V314.26H278.0zM279.0 312.93H280.0V315.49H279.0zM280.0 314.16H281.0V315.49H280.0zM281.0 314.16H282.0V316.72H281.0zM282.0 315.39H283.0V316.72H282.0zM283.0 315.39H284.0V317.95H283.0zM284.0 316.62H285.0V317.95H284.0zM285.0 316.62H286.0V319.18H285.0zM286.0 317.85H287.0V320.41H286.0zM287.0 319.08H288.0V320.41H287.0zM288.0 319.08H289.0V321.64H288.0zM289.0 320.31H290.0V321.64H289.0zM290.0 320.31H291.0V322.87H290.0zM291.0 321.54H292.0V322.87H291.0zM292.0 321.54H293.0V324.09H292.0zM293.0 322.77H294.0V324.09H293.0zM294.0 322.77H295.0V325.32H294.0zM295.0 323.99H296.0V325.32H295.0zM296.0 323.99H297.0V326.55H296.0zM297.0 325.22H299.0V326.55H297.0zM299.0 325.22H300.0V327.78H299.0zM300.0 326.45H301.0V327.78H300.0zM301.0 326.45H302.0V329.01H301.0zM302.0 327.68H304.0V329.01H302.0zM304.0 327.68H305.0V330.24H304.0zM305.0 328.91H307.0V330.24H305.0zM307.0 328.91H308.0V331.47H307.0zM308.0 330.14H309.0V331.47H308.0zM309.0 330.14H310.0V332.70H309.0zM310.0 331.37H312.0V332.70H310.0zM312.0 331.37H313.0V333.93H312.0zM313.0 332.60H314.0V333.93H313.0zM314.0 332.60H315.0V335.16H314.0zM315.0 333.83H317.0V335.16H315.0zM317.0 333.83H318.0V336.38H317.0zM318.0 335.06H319.0V336.38H318.0zM319.0 335.06H320.0V337.61H319.0zM320.0 336.28H321.0V337.61H320.0zM321.0 336.28H322.0V338.84H321.0zM322.0 337.51H324.0V338.84H322.0zM324.0 337.51H325.0V340.07H324.0zM325.0 338.74H327.0V340.07H325.0zM327.0 338.74H328.0V341.30H327.0zM328.0 339.97H329.0V341.30H328.0zM329.0 339.97H330.0V342.53H329.0zM330.0 341.20H332.0V342.53H330.0zM332.0 341.20H333.0V343.76H332.0zM333.0 342.43H335.0V343.76H333.0zM335.0 342.43H336.0V344.99H335.0zM336.0 343.66H337.0V344.99H336.0zM337.0 343.66H338.0V346.22H337.0zM338.0 344.89H340.0V346.22H338.0zM340.0 344.89H341.0V347.45H340.0zM341.0 346.12H342.0V347.45H341.0zM342.0 346.12H343.0V348.67H342.0zM343.0 347.35H345.0V348.67H343.0zM345.0 347.35H346.0V349.90H345.0zM346.0 348.57H347.0V349.90H346.0zM347.0 348.57H348.0V351.13H347.0zM348.0 349.80H350.0V351.13H348.0zM350.0 349.80H351.0V352.36H350.0zM351.0 351.03H352.0V352.36H351.0zM352.0 351.03H353.0V353.59H352.0zM353.0 352.26H355.0V353.59H353.0zM355.0 352.26H356.0V354.82H355.0zM356.0 353.49H358.0V354.82H356.0zM358.0 353.49H359.0V356.05H358.0zM359.0 354.72H361.0V356.05H359.0zM361.0 354.72H362.0V357.28H361.0zM362.0 355.95H363.0V357.28H362.0zM363.0 355.95H364.0V358.51H363.0zM364.0 357.18H366.0V358.51H364.0zM366.0 357.18H367.0V359.74H366.0zM367.0 358.41H369.0V359.74H367.0zM369.0 358.41H370.0V360.96H369.0zM370.0 359.64H371.0V360.96H370.0zM371.0 359.64H372.0V362.19H371.0zM372.0 360.86H375.0V362.19H372.0zM375.0 360.86H376.0V363.42H375.0zM376.0 362.09H378.0V363.42H376.0zM378.0 362.09H379.0V364.65H378.0zM379.0 363.32H385.0V364.65H379.0zM385.0 363.32H386.0V365.88H385.0zM386.0 364.55H399.0V365.88H386.0zM399.0 363.32H400.0V365.88H399.0zM400.0 363.32H404.0V364.65H400.0zM404.0 362.09H405.0V364.65H404.0zM405.0 362.09H408.0V363.42H405.0zM408.0 360.86H409.0V363.42H408.0zM409.0 360.86H412.0V362.19H409.0zM412.0 359.64H413.0V362.19H412.0zM413.0 359.64H415.0V360.96H413.0zM415.0 358.41H416.0V360.96H415.0zM416.0 358.41H418.0V359.74H416.0zM418.0 357.18H419.0V359.74H418.0zM419.0 357.18H422.0V358.51H419.0zM422.0 355.95H423.0V358.51H422.0zM423.0 355.95H425.0V357.28H423.0zM425.0 354.72H426.0V357.28H425.0zM426.0 354.72H429.0V356.05H426.0zM429.0 353.49H430.0V356.05H429.0zM430.0 353.49H432.0V354.82H430.0zM432.0 352.26H433.0V354.82H432.0zM433.0 352.26H434.0V353.59H433.0zM434.0 351.03H435.0V353.59H434.0zM435.0 351.03H436.0V352.36H435.0zM436.0 349.80H437.0V352.36H436.0zM437.0 349.80H438.0V351.13H437.0zM438.0 348.57H439.0V351.13H438.0zM439.0 347.35H440.0V349.90H439.0zM440.0 347.35H441.0V348.67H440.0zM441.0 346.12H442.0V348.67H441.0zM442.0 346.12H443.0V347.45H442.0zM443.0 344.89H444.0V347.45H443.0zM444.0 343.66H445.0V346.22H444.0zM445.0 342.43H446.0V344.99H445.0zM446.0 342.43H447.0V343.76H446.0zM447.0 341.20H448.0V343.76H447.0zM448.0 339.97H449.0V342.53H448.0zM449.0 338.74H450.0V341.30H449.0zM450.0 338.74H451.0V340.07H450.0zM451.0 337.51H452.0V340.07H451.0zM452.0 337.51H453.0V338.84H452.0zM453.0 336.28H454.0V338.84H453.0zM454.0 336.28H456.0V337.61H454.0zM456.0 335.06H457.0V337.61H456.0zM457.0 335.06H460.0V336.38H457.0zM460.0 333.83H461.0V336.38H460.0zM461.0 333.83H471.0V335.16H461.0zM471.0 332.60H472.0V335.16H471.0zM472.0 332.60H475.0V333.93H472.0zM475.0 331.37H476.0V333.93H475.0zM476.0 331.37H478.0V332.70H476.0zM478.0 330.14H479.0V332.70H478.0zM479.0 330.14H481.0V331.47H479.0zM481.0 328.91H482.0V331.47H481.0zM482.0 328.91H484.0V330.24H482.0zM484.0 327.68H485.0V330.24H484.0zM485.0 327.68H486.0V329.01H485.0zM486.0 326.45H487.0V329.01H486.0zM487.0 326.45H488.0V327.78H487.0zM488.0 325.22H489.0V327.78H488.0zM489.0 325.22H490.0V326.55H489.0zM490.0 323.99H491.0V326.55H490.0zM491.0 323.99H492.0V325.32H491.0zM492.0 322.77H493.0V325.32H492.0zM493.0 322.77H494.0V324.09H493.0zM494.0 321.54H495.0V324.09H494.0zM495.0 321.54H497.0V322.87H495.0zM497.0 320.31H498.0V322.87H497.0zM498.0 320.31H499.0V321.64H498.0zM499.0 319.08H500.0V321.64H499.0zM500.0 319.08H501.0V320.41H500.0zM501.0 317.85H502.0V320.41H501.0zM502.0 317.85H503.0V319.18H502.0zM503.0 316.62H504.0V319.18H503.0zM504.0 316.62H506.0V317.95H504.0zM506.0 315.39H507.0V317.95H506.0zM507.0 315.39H508.0V316.72H507.0zM508.0 314.16H509.0V316.72H508.0zM509.0 314.16H510.0V315.49H509.0zM510.0 312.93H511.0V315.49H510.0zM511.0 312.93H512.0V314.26H511.0zM512.0 311.70H513.0V314.26H512.0zM513.0 311.70H515.0V313.03H513.0zM515.0 310.48H516.0V313.03H515.0zM516.0 310.48H517.0V311.80H516.0zM517.0 309.25H518.0V311.80H517.0zM518.0 309.25H519.0V310.58H518.0zM519.0 308.02H520.0V310.58H519.0zM520.0 308.02H522.0V309.35H520.0zM522.0 306.79H523.0V309.35H522.0zM523.0 306.79H524.0V308.12H523.0zM524.0 305.56H525.0V308.12H524.0zM525.0 305.56H527.0V306.89H525.0zM527.0 304.33H528.0V306.89H527.0zM528.0 304.33H530.0V305.66H528.0zM530.0 303.10H531.0V305.66H530.0zM531.0 303.10H533.0V304.43H531.0zM533.0 301.87H534.0V304.43H533.0zM534.0 301.87H536.0V303.20H534.0zM536.0 300.64H537.0V303.20H536.0zM537.0 300.64H538.0V301.97H537.0zM538.0 299.41H539.0V301.97H538.0zM539.0 299.41H541.0V300.74H539.0zM541.0 298.19H542.0V300.74H541.0zM542.0 298.19H545.0V299.51H542.0zM545.0 296.96H546.0V299.51H545.0zM546.0 296.96H548.0V298.29H546.0zM548.0 295.73H549.0V298.29H548.0zM549.0 295.73H550.0V297.06H549.0zM550.0 294.50H551.0V297.06H550.0zM551.0 294.50H553.0V295.83H551.0zM553.0 293.27H554.0V295.83H553.0zM554.0 293.27H555.0V294.60H554.0zM555.0 292.04H556.0V294.60H555.0zM556.0 292.04H557.0V293.37H556.0zM557.0 290.81H558.0V293.37H557.0zM558.0 290.81H560.0V292.14H558.0zM560.0 289.58H561.0V292.14H560.0zM561.0 289.58H562.0V290.91H561.0zM562.0 288.35H563.0V290.91H562.0zM563.0 288.35H565.0V289.68H563.0zM565.0 287.12H566.0V289.68H565.0zM566.0 287.12H568.0V288.45H566.0zM568.0 285.90H569.0V288.45H568.0zM569.0 285.90H571.0V287.22H569.0zM571.0 284.67H572.0V287.22H571.0zM572.0 284.67H574.0V286.00H572.0zM574.0 283.44H575.0V286.00H574.0zM575.0 283.44H577.0V284.77H575.0zM577.0 282.21H578.0V284.77H577.0zM578.0 282.21H579.0V283.54H578.0zM579.0 280.98H580.0V283.54H579.0zM580.0 280.98H581.0V282.31H580.0zM581.0 279.75H582.0V282.31H581.0zM582.0 279.75H583.0V281.08H582.0zM583.0 278.52H584.0V281.08H583.0zM584.0 278.52H585.0V279.85H584.0zM585.0 277.29H586.0V279.85H585.0zM586.0 277.29H587.0V278.62H586.0zM587.0 276.06H588.0V278.62H587.0zM588.0 276.06H589.0V277.39H588.0zM589.0 274.84H590.0V277.39H589.0zM590.0 273.61H591.0V276.16H590.0zM591.0 273.61H592.0V274.94H591.0zM592.0 272.38H593.0V274.94H592.0zM593.0 272.38H594.0V273.71H593.0zM594.0 271.15H595.0V273.71H594.0zM595.0 271.15H596.0V272.48H595.0zM596.0 269.92H597.0V272.48H596.0zM597.0 269.92H599.0V271.25H597.0zM599.0 268.69H600.0V271.25H599.0zM600.0 268.69H601.0V270.02H600.0zM601.0 267.46H602.0V270.02H601.0zM602.0 267.46H605.0V268.79H602.0zM605.0 266.23H606.0V268.79H605.0zM606.0 266.23H610.0V267.56H606.0zM610.0 265.00H611.0V267.56H610.0zM611.0 265.00H613.0V266.33H611.0zM613.0 263.77H614.0V266.33H613.0zM614.0 263.77H616.0V265.10H614.0zM616.0 262.55H617.0V265.10H616.0zM617.0 262.55H619.0V263.87H617.0zM619.0 261.32H620.0V263.87H619.0zM620.0 261.32H622.0V262.65H620.0zM622.0 260.09H623.0V262.65H622.0zM623.0 260.09H626.0V261.42H623.0zM626.0 258.86H627.0V261.42H626.0zM627.0 258.86H630.0V260.19H627.0zM630.0 257.63H631.0V260.19H630.0zM631.0 257.63H633.0V258.96H631.0zM633.0 256.40H634.0V258.96H633.0zM634.0 256.40H637.0V257.73H634.0zM637.0 255.17H638.0V257.73H637.0zM638.0 255.17H640.0V256.50H638.0zM640.0 253.94H641.0V256.50H640.0zM641.0 253.94H643.0V255.27H641.0zM643.0 252.71H644.0V255.27H643.0zM644.0 252.71H646.0V254.04H644.0zM646.0 251.48H647.0V254.04H646.0zM647.0 251.48H649.0V252.81H647.0zM649.0 250.26H650.0V252.81H649.0zM650.0 250.26H652.0V251.58H650.0zM652.0 249.03H653.0V251.58H652.0zM653.0 249.03H656.0V250.36H653.0zM656.0 247.80H657.0V250.36H656.0zM657.0 247.80H660.0V249.13H657.0zM660.0 246.57H661.0V249.13H660.0zM661.0 246.57H667.0V247.90H661.0zM667.0 245.34H668.0V247.90H667.0zM668.0 245.34H677.7V246.67H668.0z" fill="url(#gMid)" opacity="0.55"/>
<path d="M86.0 233.2C87.7 233.3 93.5 233.3 96.0 233.6C98.5 233.9 99.1 234.2 101.0 234.8C102.9 235.4 104.8 236.2 107.4 237.1C110.0 238.0 113.5 239.4 116.5 240.5C119.5 241.6 122.7 242.7 125.7 243.7C128.8 244.7 131.8 245.4 134.8 246.5C137.8 247.6 140.9 248.6 143.9 250.1C146.9 251.6 150.1 253.6 153.1 255.6C156.1 257.6 159.2 259.9 162.2 262.0C165.2 264.1 168.2 266.3 171.3 267.9C174.4 269.5 177.4 270.5 180.5 271.5C183.6 272.5 186.6 273.0 189.6 273.9C192.6 274.8 195.6 275.4 198.7 276.6C201.8 277.8 204.8 279.4 207.9 281.2C211.0 283.0 214.0 285.8 217.0 287.6C220.0 289.4 223.0 290.8 226.1 292.1C229.2 293.4 232.2 294.3 235.3 295.3C238.4 296.3 241.4 297.2 244.4 298.2C247.4 299.2 250.5 300.2 253.5 301.3C256.5 302.4 259.9 303.7 262.6 304.9C265.4 306.1 267.2 306.8 270.0 308.3C272.8 309.8 276.1 311.8 279.1 313.8C282.2 315.8 285.2 318.1 288.3 320.1C291.4 322.1 294.4 324.0 297.4 325.6C300.4 327.2 303.4 328.3 306.5 329.8C309.6 331.3 312.6 332.9 315.7 334.4C318.8 335.9 321.8 337.6 324.8 339.0C327.9 340.4 330.9 341.6 334.0 343.0C337.1 344.4 340.1 346.1 343.1 347.6C346.1 349.1 349.1 350.7 352.2 352.1C355.2 353.5 358.3 354.7 361.4 356.1C364.4 357.5 367.5 359.1 370.5 360.3C373.5 361.6 376.6 362.8 379.6 363.6C382.7 364.4 385.8 364.7 388.8 364.9C391.9 365.1 394.9 365.3 397.9 364.9C400.9 364.5 403.9 363.6 407.0 362.7C410.1 361.8 413.1 360.5 416.2 359.4C419.2 358.3 422.3 357.2 425.3 356.1C428.3 355.0 431.3 354.2 434.4 352.5C437.4 350.8 440.6 348.1 443.6 345.7C446.7 343.3 449.7 339.7 452.7 337.9C455.7 336.1 458.8 335.5 461.8 334.8C464.9 334.1 467.9 334.5 471.0 333.9C474.1 333.2 477.1 332.2 480.1 330.9C483.1 329.6 485.9 327.9 488.8 326.3C491.7 324.7 494.6 323.0 497.5 321.4C500.4 319.8 503.4 318.2 506.3 316.6C509.2 315.0 512.1 313.4 515.0 311.9C517.9 310.4 520.9 308.8 523.8 307.4C526.7 306.0 529.6 304.8 532.5 303.5C535.4 302.2 538.4 300.9 541.3 299.7C544.2 298.5 547.1 297.5 550.0 296.2C552.9 294.9 555.9 293.1 558.8 291.6C561.7 290.1 564.6 288.7 567.5 287.4C570.4 286.1 573.4 285.3 576.3 283.9C579.2 282.5 582.1 280.8 585.0 279.0C587.9 277.2 590.9 274.6 593.8 272.9C596.7 271.1 599.6 269.7 602.5 268.5C605.4 267.3 608.4 266.9 611.3 265.9C614.2 264.9 617.1 263.5 620.0 262.4C622.9 261.3 625.9 260.4 628.8 259.4C631.7 258.4 634.6 257.4 637.5 256.3C640.4 255.2 643.4 253.9 646.3 252.8C649.2 251.7 652.1 250.5 655.0 249.6C657.9 248.7 660.9 247.8 663.8 247.2C666.7 246.6 670.2 246.3 672.5 246.1C674.8 245.9 676.7 246.1 677.5 246.1" fill="none" stroke="url(#gMid)" stroke-width="1.25" stroke-linejoin="round" opacity="0.75"/>
<path d="M86.0 363.21H88.0V364.76H86.0zM88.0 363.21H89.0V365.99H88.0zM89.0 364.44H100.0V365.99H89.0zM100.0 364.44H101.0V367.22H100.0zM101.0 365.67H107.0V367.22H101.0zM107.0 365.67H108.0V368.45H107.0zM108.0 366.90H113.0V368.45H108.0zM113.0 366.90H114.0V369.68H113.0zM114.0 368.13H120.0V369.68H114.0zM120.0 368.13H121.0V370.91H120.0zM121.0 369.36H127.0V370.91H121.0zM127.0 369.36H128.0V372.13H127.0zM128.0 370.59H132.0V372.13H128.0zM132.0 370.59H133.0V373.36H132.0zM133.0 371.81H138.0V373.36H133.0zM138.0 371.81H139.0V374.59H138.0zM139.0 373.04H142.0V374.59H139.0zM142.0 373.04H143.0V375.82H142.0zM143.0 374.27H147.0V375.82H143.0zM147.0 374.27H148.0V377.05H147.0zM148.0 375.50H152.0V377.05H148.0zM152.0 375.50H153.0V378.28H152.0zM153.0 376.73H157.0V378.28H153.0zM157.0 376.73H158.0V379.51H157.0zM158.0 377.96H162.0V379.51H158.0zM162.0 377.96H163.0V380.74H162.0zM163.0 379.19H167.0V380.74H163.0zM167.0 379.19H168.0V381.97H167.0zM168.0 380.42H172.0V381.97H168.0zM172.0 380.42H173.0V383.20H172.0zM173.0 381.65H177.0V383.20H173.0zM177.0 381.65H178.0V384.42H177.0zM178.0 382.88H183.0V384.42H178.0zM183.0 382.88H184.0V385.65H183.0zM184.0 384.10H189.0V385.65H184.0zM189.0 384.10H190.0V386.88H189.0zM190.0 385.33H195.0V386.88H190.0zM195.0 385.33H196.0V388.11H195.0zM196.0 386.56H201.0V388.11H196.0zM201.0 386.56H202.0V389.34H201.0zM202.0 387.79H207.0V389.34H202.0zM207.0 387.79H208.0V390.57H207.0zM208.0 389.02H213.0V390.57H208.0zM213.0 389.02H214.0V391.80H213.0zM214.0 390.25H218.0V391.80H214.0zM218.0 390.25H219.0V393.03H218.0zM219.0 391.48H224.0V393.03H219.0zM224.0 391.48H225.0V394.26H224.0zM225.0 392.71H230.0V394.26H225.0zM230.0 392.71H231.0V395.49H230.0zM231.0 393.94H236.0V395.49H231.0zM236.0 393.94H237.0V396.71H236.0zM237.0 395.17H242.0V396.71H237.0zM242.0 395.17H243.0V397.94H242.0zM243.0 396.39H246.0V397.94H243.0zM246.0 396.39H247.0V399.17H246.0zM247.0 397.62H250.0V399.17H247.0zM250.0 397.62H251.0V400.40H250.0zM251.0 398.85H253.0V400.40H251.0zM253.0 398.85H254.0V401.63H253.0zM254.0 400.08H256.0V401.63H254.0zM256.0 400.08H257.0V402.86H256.0zM257.0 401.31H259.0V402.86H257.0zM259.0 401.31H260.0V404.09H259.0zM260.0 402.54H262.0V404.09H260.0zM262.0 402.54H263.0V405.32H262.0zM263.0 403.77H266.0V405.32H263.0zM266.0 403.77H267.0V406.55H266.0zM267.0 405.00H270.0V406.55H267.0zM270.0 405.00H271.0V407.78H270.0zM271.0 406.23H276.0V407.78H271.0zM276.0 406.23H277.0V409.00H276.0zM277.0 407.46H293.0V409.00H277.0zM293.0 407.46H294.0V410.23H293.0zM294.0 408.68H298.0V410.23H294.0zM298.0 408.68H299.0V411.46H298.0zM299.0 409.91H304.0V411.46H299.0zM304.0 409.91H305.0V412.69H304.0zM305.0 411.14H308.0V412.69H305.0zM308.0 411.14H309.0V413.92H308.0zM309.0 412.37H312.0V413.92H309.0zM312.0 412.37H313.0V415.15H312.0zM313.0 413.60H316.0V415.15H313.0zM316.0 413.60H317.0V416.38H316.0zM317.0 414.83H321.0V416.38H317.0zM321.0 414.83H322.0V417.61H321.0zM322.0 416.06H326.0V417.61H322.0zM326.0 416.06H327.0V418.84H326.0zM327.0 417.29H331.0V418.84H327.0zM331.0 417.29H332.0V420.07H331.0zM332.0 418.52H336.0V420.07H332.0zM336.0 418.52H337.0V421.29H336.0zM337.0 419.75H341.0V421.29H337.0zM341.0 419.75H342.0V422.52H341.0zM342.0 420.97H346.0V422.52H342.0zM346.0 420.97H347.0V423.75H346.0zM347.0 422.20H350.0V423.75H347.0zM350.0 422.20H351.0V424.98H350.0zM351.0 423.43H355.0V424.98H351.0zM355.0 423.43H356.0V426.21H355.0zM356.0 424.66H361.0V426.21H356.0zM361.0 424.66H362.0V427.44H361.0zM362.0 425.89H367.0V427.44H362.0zM367.0 425.89H368.0V428.67H367.0zM368.0 427.12H372.0V428.67H368.0zM372.0 427.12H373.0V429.90H372.0zM373.0 428.35H377.0V429.90H373.0zM377.0 428.35H378.0V431.13H377.0zM378.0 429.58H382.0V431.13H378.0zM382.0 429.58H383.0V432.36H382.0zM383.0 430.81H388.0V432.36H383.0zM388.0 430.81H389.0V433.58H388.0zM389.0 432.04H396.0V433.58H389.0zM396.0 430.81H397.0V433.58H396.0zM397.0 430.81H401.0V432.36H397.0zM401.0 429.58H402.0V432.36H401.0zM402.0 429.58H406.0V431.13H402.0zM406.0 428.35H407.0V431.13H406.0zM407.0 428.35H409.0V429.90H407.0zM409.0 427.12H410.0V429.90H409.0zM410.0 427.12H414.0V428.67H410.0zM414.0 425.89H415.0V428.67H414.0zM415.0 425.89H419.0V427.44H415.0zM419.0 424.66H420.0V427.44H419.0zM420.0 424.66H424.0V426.21H420.0zM424.0 423.43H425.0V426.21H424.0zM425.0 423.43H429.0V424.98H425.0zM429.0 422.20H430.0V424.98H429.0zM430.0 422.20H435.0V423.75H430.0zM435.0 420.97H436.0V423.75H435.0zM436.0 420.97H449.0V422.52H436.0zM449.0 419.75H450.0V422.52H449.0zM450.0 419.75H453.0V421.29H450.0zM453.0 418.52H454.0V421.29H453.0zM454.0 418.52H456.0V420.07H454.0zM456.0 417.29H457.0V420.07H456.0zM457.0 417.29H459.0V418.84H457.0zM459.0 416.06H460.0V418.84H459.0zM460.0 416.06H462.0V417.61H460.0zM462.0 414.83H463.0V417.61H462.0zM463.0 414.83H466.0V416.38H463.0zM466.0 413.60H467.0V416.38H466.0zM467.0 413.60H470.0V415.15H467.0zM470.0 412.37H471.0V415.15H470.0zM471.0 412.37H484.0V413.92H471.0zM484.0 411.14H485.0V413.92H484.0zM485.0 411.14H491.0V412.69H485.0zM491.0 409.91H492.0V412.69H491.0zM492.0 409.91H496.0V411.46H492.0zM496.0 408.68H497.0V411.46H496.0zM497.0 408.68H501.0V410.23H497.0zM501.0 407.46H502.0V410.23H501.0zM502.0 407.46H505.0V409.00H502.0zM505.0 406.23H506.0V409.00H505.0zM506.0 406.23H510.0V407.78H506.0zM510.0 405.00H511.0V407.78H510.0zM511.0 405.00H514.0V406.55H511.0zM514.0 403.77H515.0V406.55H514.0zM515.0 403.77H519.0V405.32H515.0zM519.0 402.54H520.0V405.32H519.0zM520.0 402.54H524.0V404.09H520.0zM524.0 401.31H525.0V404.09H524.0zM525.0 401.31H529.0V402.86H525.0zM529.0 400.08H530.0V402.86H529.0zM530.0 400.08H534.0V401.63H530.0zM534.0 398.85H535.0V401.63H534.0zM535.0 398.85H538.0V400.40H535.0zM538.0 397.62H539.0V400.40H538.0zM539.0 397.62H542.0V399.17H539.0zM542.0 396.39H543.0V399.17H542.0zM543.0 396.39H547.0V397.94H543.0zM547.0 395.17H548.0V397.94H547.0zM548.0 395.17H552.0V396.71H548.0zM552.0 393.94H553.0V396.71H552.0zM553.0 393.94H557.0V395.49H553.0zM557.0 392.71H558.0V395.49H557.0zM558.0 392.71H562.0V394.26H558.0zM562.0 391.48H563.0V394.26H562.0zM563.0 391.48H567.0V393.03H563.0zM567.0 390.25H568.0V393.03H567.0zM568.0 390.25H572.0V391.80H568.0zM572.0 389.02H573.0V391.80H572.0zM573.0 389.02H577.0V390.57H573.0zM577.0 387.79H578.0V390.57H577.0zM578.0 387.79H583.0V389.34H578.0zM583.0 386.56H584.0V389.34H583.0zM584.0 386.56H588.0V388.11H584.0zM588.0 385.33H589.0V388.11H588.0zM589.0 385.33H593.0V386.88H589.0zM593.0 384.10H594.0V386.88H593.0zM594.0 384.10H598.0V385.65H594.0zM598.0 382.88H599.0V385.65H598.0zM599.0 382.88H603.0V384.42H599.0zM603.0 381.65H604.0V384.42H603.0zM604.0 381.65H609.0V383.20H604.0zM609.0 380.42H610.0V383.20H609.0zM610.0 380.42H616.0V381.97H610.0zM616.0 379.19H617.0V381.97H616.0zM617.0 379.19H622.0V380.74H617.0zM622.0 377.96H623.0V380.74H622.0zM623.0 377.96H628.0V379.51H623.0zM628.0 376.73H629.0V379.51H628.0zM629.0 376.73H633.0V378.28H629.0zM633.0 375.50H634.0V378.28H633.0zM634.0 375.50H638.0V377.05H634.0zM638.0 374.27H639.0V377.05H638.0zM639.0 374.27H644.0V375.82H639.0zM644.0 373.04H645.0V375.82H644.0zM645.0 373.04H651.0V374.59H645.0zM651.0 371.81H652.0V374.59H651.0zM652.0 371.81H665.0V373.36H652.0zM665.0 371.81H666.0V374.59H665.0zM666.0 373.04H677.7V374.59H666.0z" fill="url(#gBot)"/>
</g>
<rect x="85.5" y="98.8" width="6" height="2.6" fill="#0c40ff"/>
<rect x="85.5" y="232" width="8.5" height="2.6" fill="#0c4cff"/>
<rect x="85.5" y="363.2" width="9" height="2.6" fill="#1480ff"/>
<rect x="670" y="117" width="7.5" height="2.6" fill="#1058ff"/>
<rect x="668" y="244.9" width="9.5" height="2.6" fill="#1478ff"/>
<rect x="664.7" y="372.1" width="5.6" height="2.9" fill="#10e4ff"/><rect x="670.2" y="372.1" width="3.9" height="2.9" fill="#08b8ff"/><rect x="674" y="372.1" width="3.7" height="3.6" fill="#0474ff"/>
<rect x="544.5" y="250.4" width="69.5" height="52.4" fill="none" stroke="#ff0000" stroke-width="5.8"/>
<rect x="85.5" y="16.5" width="592.85" height="481.2" stroke="#262626" stroke-width="1.1" fill="none" opacity="0.82"/>
<rect x="86.0" y="496" width="591.85" height="2.1" fill="url(#gStrip)"/>
<rect x="86" y="495" width="5" height="3.1" fill="#fff020"/><rect x="91" y="495" width="2.6" height="3.1" fill="#ffa000"/>
<rect x="668.8" y="495.2" width="5.2" height="2.9" fill="#f0f010"/><rect x="673.6" y="495.2" width="4.1" height="2.9" fill="#30e8e0"/><rect x="672.8" y="495.2" width="1.4" height="2.9" fill="#a0f070"/>
<path d="M161.3 498.09999999999997v-6.8M161.3 16.5v6.8M237.2 498.09999999999997v-6.8M237.2 16.5v6.8M313.0 498.09999999999997v-6.8M313.0 16.5v6.8M388.9 498.09999999999997v-6.8M388.9 16.5v6.8M464.8 498.09999999999997v-6.8M464.8 16.5v6.8M540.6 498.09999999999997v-6.8M540.6 16.5v6.8M616.4 498.09999999999997v-6.8M616.4 16.5v6.8M85.5 401.5h6.2M678.35 401.5h-6.2M85.5 305.2h6.2M678.35 305.2h-6.2M85.5 209.0h6.2M678.35 209.0h-6.2M85.5 112.7h6.2M678.35 112.7h-6.2" stroke="#262626" stroke-width="1.1" fill="none" opacity="0.85"/>
<text class="t" transform="translate(77.3,508.3) scale(0.96,1)" text-anchor="end">0</text>
<text class="t" transform="translate(77.3,412.1) scale(0.96,1)" text-anchor="end">20</text>
<text class="t" transform="translate(77.3,315.8) scale(0.96,1)" text-anchor="end">40</text>
<text class="t" transform="translate(77.3,219.6) scale(0.96,1)" text-anchor="end">60</text>
<text class="t" transform="translate(77.3,123.3) scale(0.96,1)" text-anchor="end">80</text>
<text class="t" transform="translate(77.3,27.1) scale(0.96,1)" text-anchor="end">100</text>
<text class="t" transform="translate(85.8,532.3) scale(0.96,1)" text-anchor="middle">0</text>
<text class="t" transform="translate(161.7,532.3) scale(0.96,1)" text-anchor="middle">0.5</text>
<text class="t" transform="translate(237.5,532.3) scale(0.96,1)" text-anchor="middle">1</text>
<text class="t" transform="translate(313.3,532.3) scale(0.96,1)" text-anchor="middle">1.5</text>
<text class="t" transform="translate(389.2,532.3) scale(0.96,1)" text-anchor="middle">2</text>
<text class="t" transform="translate(465.1,532.3) scale(0.96,1)" text-anchor="middle">2.5</text>
<text class="t" transform="translate(540.9,532.3) scale(0.96,1)" text-anchor="middle">3</text>
<text class="t" transform="translate(616.7,532.3) scale(0.96,1)" text-anchor="middle">3.5</text>
<text class="t" transform="translate(382.0,563.3) scale(0.96,1)" text-anchor="middle">Time / s</text>
<text class="t" transform="translate(30.2,257.2) rotate(-90)" text-anchor="middle">Fre / Hz</text>
<rect x="849.95" y="16.0" width="592.55" height="482.2" fill="#00008f"/>
<rect x="850.45" y="369" width="591.55" height="1" fill="#3640a6"/>
<g>
<rect x="850.0" y="345.25" width="8.7" height="6.14" fill="#2effd1"/>
<rect x="850.0" y="344.65" width="8.7" height="1.2" fill="#2effd1"/>
<rect x="850.0" y="339.11" width="34.0" height="6.14" fill="#2effd1"/>
<rect x="876.0" y="338.51" width="8.0" height="1.2" fill="#2effd1"/>
<rect x="876.0" y="332.96" width="33.4" height="6.14" fill="#2effd1"/>
<rect x="901.9" y="332.36" width="7.5" height="1.2" fill="#2effd1"/>
<rect x="901.9" y="326.82" width="31.8" height="6.14" fill="#2effd1"/>
<rect x="927.0" y="326.22" width="6.7" height="1.2" fill="#2effd1"/>
<rect x="927.0" y="320.68" width="28.8" height="6.14" fill="#2effd1"/>
<rect x="950.9" y="320.07" width="4.9" height="1.2" fill="#2effd1"/>
<rect x="950.9" y="314.53" width="26.3" height="6.14" fill="#2effd1"/>
<rect x="973.0" y="313.93" width="4.2" height="1.2" fill="#2effd1"/>
<rect x="973.0" y="308.38" width="24.3" height="6.14" fill="#2effd1"/>
<rect x="994.0" y="307.78" width="3.3" height="1.2" fill="#2effd1"/>
<rect x="994.0" y="302.24" width="23.4" height="6.14" fill="#2effd1"/>
<rect x="1014.9" y="301.64" width="2.5" height="1.2" fill="#2effd1"/>
<rect x="1014.9" y="296.10" width="22.6" height="6.14" fill="#2effd1"/>
<rect x="1036.4" y="295.50" width="1.1" height="1.2" fill="#2effd1"/>
<rect x="1036.4" y="289.95" width="21.7" height="6.14" fill="#2effd1"/>
<rect x="1058.1" y="283.81" width="21.8" height="6.14" fill="#2effd1"/>
<rect x="1079.9" y="277.66" width="21.7" height="6.14" fill="#2effd1"/>
<rect x="1101.1" y="277.06" width="0.5" height="1.2" fill="#2effd1"/>
<rect x="1101.1" y="271.51" width="22.1" height="6.14" fill="#2effd1"/>
<rect x="1122.1" y="270.91" width="1.1" height="1.2" fill="#2effd1"/>
<rect x="1122.1" y="265.37" width="4.7" height="6.14" fill="#2effd1"/>
<rect x="1126.2" y="265.37" width="17.6" height="6.14" fill="#61ff9e"/>
<rect x="1141.0" y="264.77" width="2.8" height="1.2" fill="#61ff9e"/>
<rect x="1141.0" y="259.23" width="21.7" height="6.14" fill="#61ff9e"/>
<rect x="1158.9" y="258.62" width="3.8" height="1.2" fill="#61ff9e"/>
<rect x="1158.9" y="253.08" width="6.4" height="6.14" fill="#61ff9e"/>
<rect x="1164.7" y="253.08" width="15.4" height="6.14" fill="#90ff6e"/>
<rect x="1175.6" y="252.48" width="4.5" height="1.2" fill="#90ff6e"/>
<rect x="1175.6" y="246.93" width="20.7" height="6.14" fill="#90ff6e"/>
<rect x="1195.7" y="246.93" width="0.8" height="6.14" fill="#b1ff4e"/>
<rect x="1191.5" y="246.33" width="4.2" height="1.2" fill="#90ff6e"/>
<rect x="1195.7" y="246.33" width="0.8" height="1.2" fill="#b1ff4e"/>
<rect x="1191.5" y="240.79" width="4.8" height="6.14" fill="#90ff6e"/>
<rect x="1195.7" y="240.79" width="16.4" height="6.14" fill="#b1ff4e"/>
<rect x="1205.7" y="240.19" width="6.4" height="1.2" fill="#b1ff4e"/>
<rect x="1205.7" y="234.64" width="18.2" height="6.14" fill="#b1ff4e"/>
<rect x="1223.3" y="234.64" width="3.5" height="6.14" fill="#d2ff2d"/>
<rect x="1220.7" y="234.04" width="2.6" height="1.2" fill="#b1ff4e"/>
<rect x="1223.3" y="234.04" width="3.5" height="1.2" fill="#d2ff2d"/>
<rect x="1220.7" y="228.50" width="3.2" height="6.14" fill="#b1ff4e"/>
<rect x="1223.3" y="228.50" width="18.6" height="6.14" fill="#d2ff2d"/>
<rect x="1234.9" y="227.90" width="7.0" height="1.2" fill="#d2ff2d"/>
<rect x="1234.9" y="222.35" width="16.6" height="6.14" fill="#d2ff2d"/>
<rect x="1250.9" y="222.35" width="5.8" height="6.14" fill="#f2f20d"/>
<rect x="1249.8" y="221.75" width="1.1" height="1.2" fill="#d2ff2d"/>
<rect x="1250.9" y="221.75" width="5.8" height="1.2" fill="#f2f20d"/>
<rect x="1249.8" y="216.21" width="1.7" height="6.14" fill="#d2ff2d"/>
<rect x="1250.9" y="216.21" width="21.0" height="6.14" fill="#f2f20d"/>
<rect x="1264.4" y="215.61" width="7.5" height="1.2" fill="#f2f20d"/>
<rect x="1264.4" y="210.06" width="15.8" height="6.14" fill="#f2f20d"/>
<rect x="1279.6" y="210.06" width="7.8" height="6.14" fill="#ffe000"/>
<rect x="1280.1" y="209.46" width="7.3" height="1.2" fill="#ffe000"/>
<rect x="1280.1" y="203.92" width="24.5" height="6.14" fill="#ffe000"/>
<rect x="1297.3" y="203.32" width="7.3" height="1.2" fill="#ffe000"/>
<rect x="1297.3" y="197.77" width="16.4" height="6.14" fill="#ffe000"/>
<rect x="1313.1" y="197.77" width="11.0" height="6.14" fill="#ffc100"/>
<rect x="1315.9" y="197.17" width="8.2" height="1.2" fill="#ffc100"/>
<rect x="1315.9" y="191.63" width="30.3" height="6.14" fill="#ffc100"/>
<rect x="1337.2" y="191.03" width="9.0" height="1.2" fill="#ffc100"/>
<rect x="1337.2" y="185.48" width="35.2" height="6.14" fill="#ffc100"/>
<rect x="1363.1" y="184.88" width="9.3" height="1.2" fill="#ffc100"/>
<rect x="1363.1" y="179.34" width="40.1" height="6.14" fill="#ffc100"/>
<rect x="1394.2" y="178.74" width="9.0" height="1.2" fill="#ffc100"/>
<rect x="1394.2" y="173.19" width="39.9" height="6.14" fill="#ffc100"/>
<rect x="1433.5" y="173.19" width="3.3" height="6.14" fill="#ffe000"/>
<rect x="1429.1" y="172.59" width="4.4" height="1.2" fill="#ffc100"/>
<rect x="1433.5" y="172.59" width="3.3" height="1.2" fill="#ffe000"/>
<rect x="1429.1" y="167.05" width="5.0" height="6.14" fill="#ffc100"/>
<rect x="1433.5" y="167.05" width="8.3" height="6.14" fill="#ffe000"/>
</g>
<rect x="850.45" y="16.5" width="591.55" height="481.2" stroke="#262626" stroke-width="1.1" fill="none" opacity="0.85"/>
<g stroke="#262626" stroke-width="1.1" fill="none" opacity="0.85">
<path d="M968.8 497.7v-6.6M968.8 16.5v6.8M1087.1 497.7v-6.6M1087.1 16.5v6.8M1205.4 497.7v-6.6M1205.4 16.5v6.8M1323.7 497.7v-6.6M1323.7 16.5v6.8M850.45 377.4h6.4M1442.0 377.4h-6.4M850.45 257.1h6.4M1442.0 257.1h-6.4M850.45 136.8h6.4M1442.0 136.8h-6.4"/>
</g>
<text class="t" transform="translate(840.8,508.3) scale(0.96,1)" text-anchor="end">35</text>
<text class="t" transform="translate(840.8,388.0) scale(0.96,1)" text-anchor="end">40</text>
<text class="t" transform="translate(840.8,267.7) scale(0.96,1)" text-anchor="end">45</text>
<text class="t" transform="translate(840.8,147.4) scale(0.96,1)" text-anchor="end">50</text>
<text class="t" transform="translate(840.8,27.1) scale(0.96,1)" text-anchor="end">55</text>
<text class="t" transform="translate(850.8,532.3) scale(0.96,1)" text-anchor="middle">3</text>
<text class="t" transform="translate(969.1,532.3) scale(0.96,1)" text-anchor="middle">3.1</text>
<text class="t" transform="translate(1087.4,532.3) scale(0.96,1)" text-anchor="middle">3.2</text>
<text class="t" transform="translate(1205.7,532.3) scale(0.96,1)" text-anchor="middle">3.3</text>
<text class="t" transform="translate(1324.0,532.3) scale(0.96,1)" text-anchor="middle">3.4</text>
<text class="t" transform="translate(1442.3,532.3) scale(0.96,1)" text-anchor="middle">3.5</text>
<text class="t" transform="translate(1146.8,563.3) scale(0.96,1)" text-anchor="middle">Time / s</text>
<text class="t" transform="translate(807.0,257.2) rotate(-90)" text-anchor="middle">Fre / Hz</text>
<text class="c" x="11.2" y="636.2" style="letter-spacing:1.1px">(i)</text>
<text class="c" x="89.4" y="636.2">TF representations obtained by AWRSSET</text>
<text class="c" x="907.1" y="636.2" style="letter-spacing:1.25px">(j)</text>
<text class="c" x="985.8" y="636.2">Local zoom on AWRSSET</text>
</svg></body></html>
